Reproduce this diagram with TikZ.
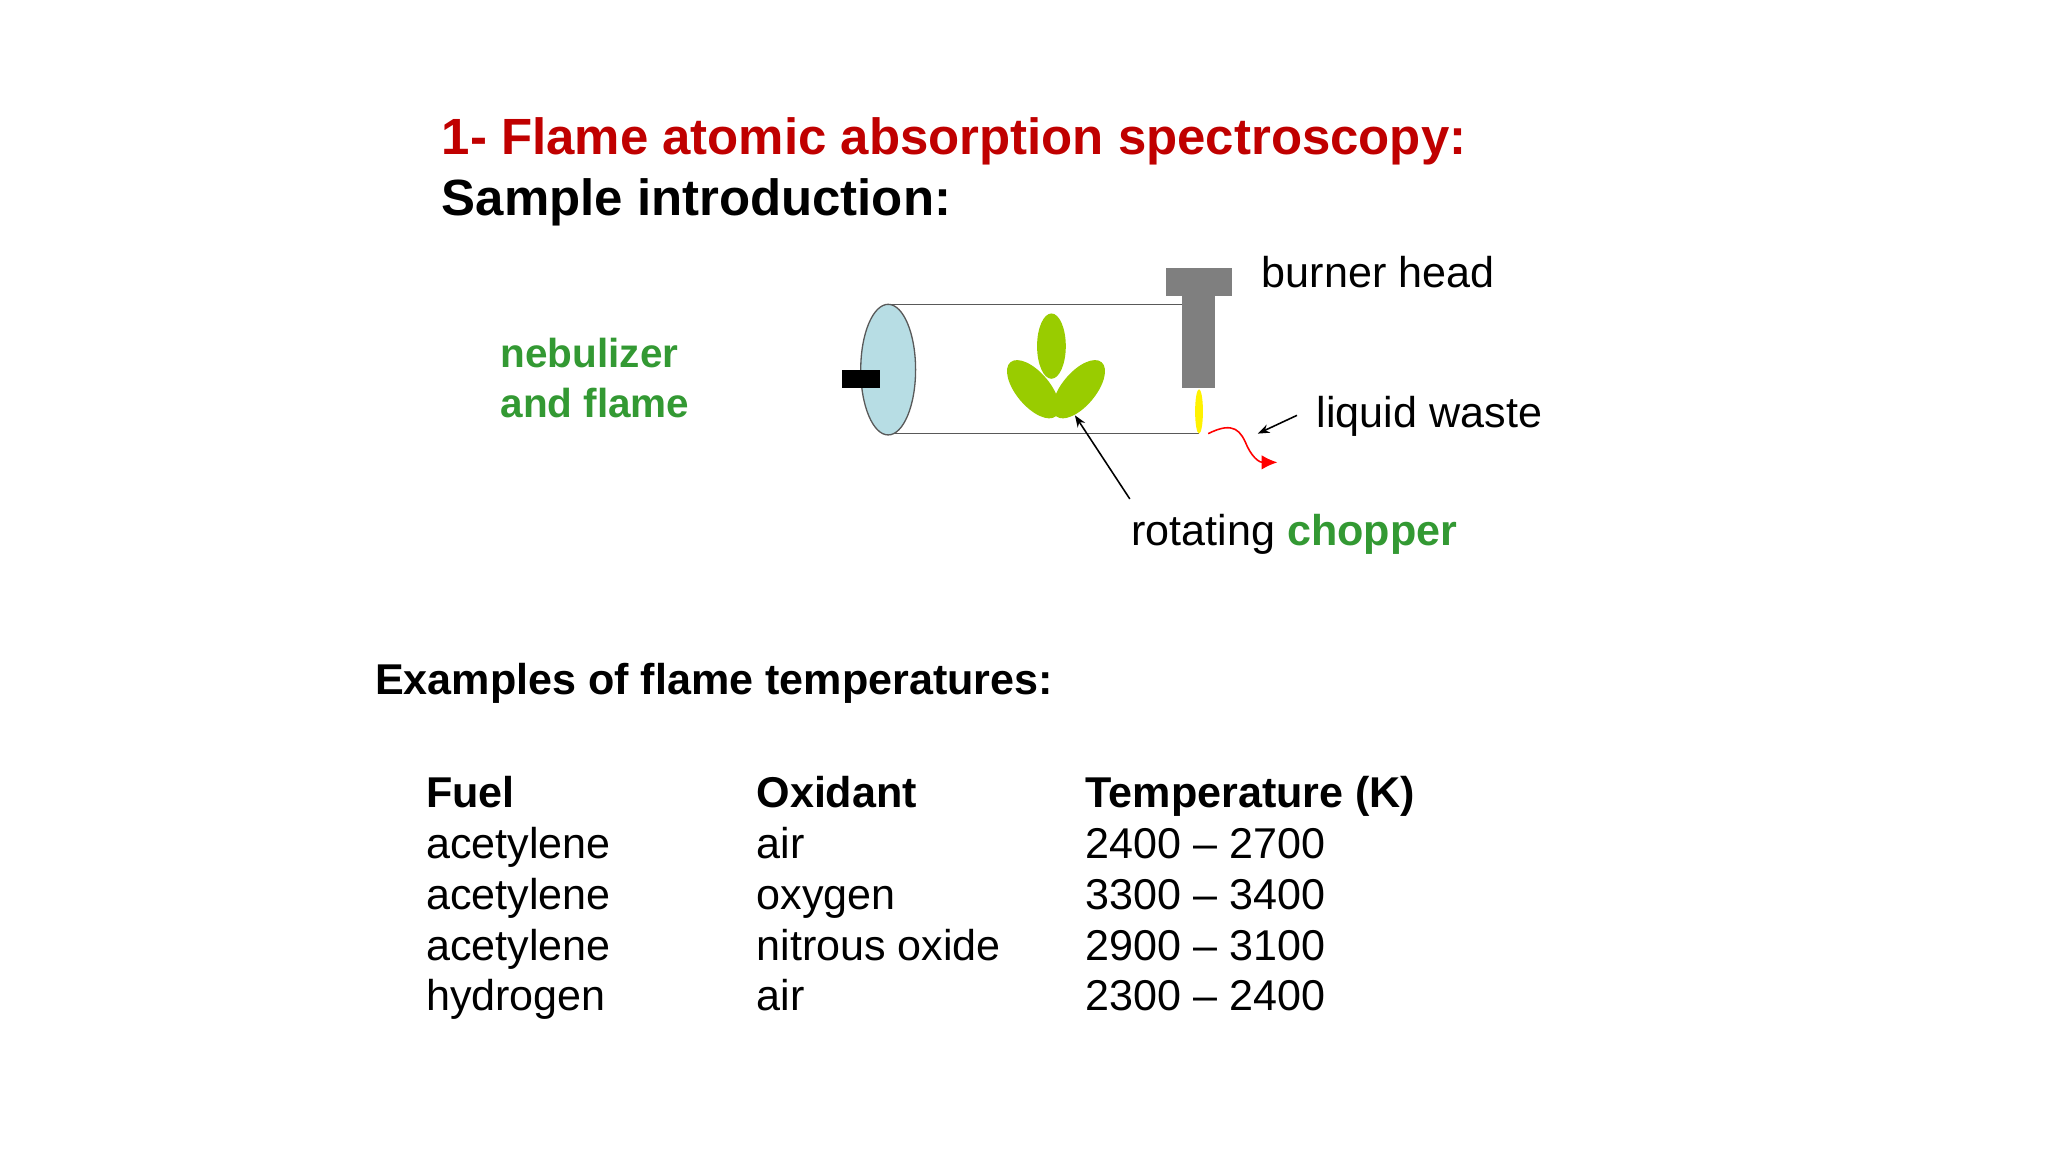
\documentclass[tikz,border=0pt]{standalone}
\usepackage{fontspec}
\setmainfont{Liberation Sans}
\usetikzlibrary{arrows.meta}
\definecolor{titred}{HTML}{C00000}
\definecolor{txtgreen}{HTML}{339933}
\definecolor{chopgreen}{HTML}{99CC00}
\definecolor{lensblue}{HTML}{B7DDE4}
\definecolor{burnergray}{HTML}{7F7F7F}
\begin{document}
\begin{tikzpicture}[x=1pt,y=-1pt,
  lbl/.style={anchor=base west,inner sep=0pt,font=\fontsize{33}{40}\selectfont},
  big/.style={anchor=base west,inner sep=0pt,font=\fontsize{39}{46}\selectfont\bfseries},
  petal/.style={fill=chopgreen,draw=none}]
\useasboundingbox (0,0) rectangle (1568,882);
\fill[white] (0,0) rectangle (1568,882);
\node[big,text=titred] (title) at (338,118) {1- Flame atomic absorption spectroscopy:};
\node[big] (sub) at (338,165) {Sample introduction:};
\node[lbl,text=txtgreen,font=\fontsize{31}{39}\selectfont\bfseries,align=left] (neb) at (383,281) {nebulizer};
\node[lbl,text=txtgreen,font=\fontsize{31}{39}\selectfont\bfseries] (neb2) at (383,320) {and flame};
% cylinder
\draw[gray!70!black,line width=1pt] (680,233) -- (905,233);
\draw[gray!70!black,line width=1pt] (680,332) -- (918,332);
\filldraw[fill=lensblue,draw=gray!70!black,line width=1pt] (680,283) ellipse [x radius=21,y radius=50];
\fill[black] (645,283) rectangle (674,297);
% burner
\fill[burnergray] (893,205) rectangle (943,227);
\fill[burnergray] (905,227) rectangle (930,297);
\fill[yellow] (918,315) ellipse [x radius=3,y radius=17];
\draw[red,line width=1.2pt,-{Latex[length=12pt,width=11pt]}] (925,332) .. controls (945,322) and (950,330) .. (955,342) .. controls (960,352) and (965,354) .. (978,354);
% chopper
\fill[petal] (805,265) ellipse [x radius=11,y radius=25];
\fill[petal,rotate around={40:(791,298)}] (791,298) ellipse [x radius=13,y radius=27];
\fill[petal,rotate around={-40:(826,298)}] (826,298) ellipse [x radius=13,y radius=27];
\coordinate (chopP) at (823,318);
\coordinate (chopT) at (865,382);
\draw[line width=1.2pt,-{Stealth[length=9pt]}] (chopT) -- (chopP);
\coordinate (lwA) at (993,318);
\coordinate (lwB) at (963,332);
\draw[line width=1.2pt,-{Stealth[length=9pt]}] (lwA) -- (lwB);
\node[lbl] (bh) at (966,220) {burner head};
\node[lbl] (lw) at (1008,327) {liquid waste};
\node[lbl] (rc) at (866,418) {rotating \textcolor{txtgreen}{\bfseries chopper}};
% table
\node[big,font=\fontsize{33}{40}\selectfont\bfseries] (ex) at (287,532) {Examples of flame temperatures:};
\foreach \a/\b/\c [count=\i from 0] in {{\textbf{Fuel}}/{\textbf{Oxidant}}/{\textbf{Temperature (K)}},acetylene/air/2400 – 2700,acetylene/oxygen/3300 – 3400,acetylene/nitrous oxide/2900 – 3100,hydrogen/air/2300 – 2400}{
  \node[lbl] (f\i) at (326,618+39*\i) {\a};
  \node[lbl] (o\i) at (579,618+39*\i) {\b};
  \node[lbl] (t\i) at (831,618+39*\i) {\c};
}
\end{tikzpicture}
\end{document}
